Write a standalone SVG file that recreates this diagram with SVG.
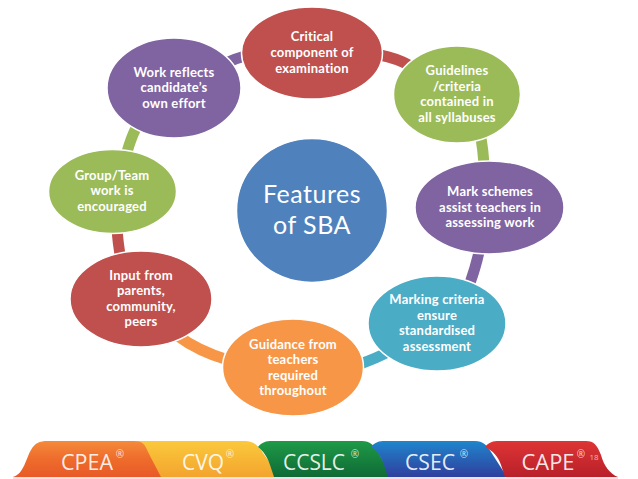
<svg xmlns="http://www.w3.org/2000/svg" width="638" height="479" viewBox="0 0 638 479">
<defs>
<linearGradient id="gO" x1="0" y1="0" x2="0" y2="1"><stop offset="0" stop-color="#f58a3a"/><stop offset=".5" stop-color="#ee6c2c"/><stop offset="1" stop-color="#e85a28"/></linearGradient>
<linearGradient id="gY" x1="0" y1="0" x2="0" y2="1"><stop offset="0" stop-color="#fbc93c"/><stop offset="1" stop-color="#f3a42e"/></linearGradient>
<linearGradient id="gG" x1="0" y1="0" x2="0" y2="1"><stop offset="0" stop-color="#1f9a48"/><stop offset="1" stop-color="#0f6a35"/></linearGradient>
<linearGradient id="gB" x1="0" y1="0" x2="0" y2="1"><stop offset="0" stop-color="#1f85cc"/><stop offset="1" stop-color="#2f3f9e"/></linearGradient>
<linearGradient id="gR" x1="0" y1="0" x2="0" y2="1"><stop offset="0" stop-color="#de3535"/><stop offset="1" stop-color="#b8202a"/></linearGradient>
</defs>
<style>
.n{stroke:#fff;stroke-width:1.5}
.t{font-family:Lato,"Open Sans",sans-serif;font-size:13px;font-weight:700;letter-spacing:.2px;fill:#fff;text-anchor:middle}
.c{fill:none;stroke-width:11}
.f{font-family:Lato,"Open Sans",sans-serif;font-size:25px;letter-spacing:.5px;fill:#fff;text-anchor:middle}
.b{font-family:"Open Sans","Noto Sans",sans-serif;font-size:22px;fill:#fff;text-anchor:middle;fill-opacity:.9}
.r{font-family:"Open Sans","Noto Sans",sans-serif;font-size:10px;fill:#fff;text-anchor:middle;fill-opacity:.8}
.p{font-family:"Open Sans","Noto Sans",sans-serif;font-size:8px;fill:#f4b8b0;text-anchor:middle}
</style>
<rect width="638" height="479" fill="#fff"/>
<g id="connectors">
<path class="c" stroke="#c0504d" d="M380 55Q396 58 411 66"/>
<path class="c" stroke="#9bbb59" d="M481 138Q483 150 484 164"/>
<path class="c" stroke="#8064a2" d="M479 252Q476 266 470 283"/>
<path class="c" stroke="#4bacc6" d="M390 351Q377 358 360 364"/>
<path class="c" stroke="#f79646" d="M178 336Q198 351 228 360"/>
<path class="c" stroke="#c0504d" d="M117 230Q118 242 120 255"/>
<path class="c" stroke="#9bbb59" d="M136 128Q131 138 127 152"/>
<path class="c" stroke="#8064a2" d="M226 63Q234 59 245 56"/>
</g>
<g id="node-center"><ellipse class="n" cx="312" cy="210.500" rx="75.500" ry="72" fill="#4f81bd"/><text class="f"><tspan x="312" y="203">Features</tspan><tspan x="312" y="234">of SBA</tspan></text></g>
<g id="node-critical"><ellipse class="n" cx="312" cy="53" rx="70.500" ry="46" fill="#c0504d"/><text class="t"><tspan x="312" y="41">Critical</tspan><tspan x="312" y="57">component of</tspan><tspan x="312" y="73">examination</tspan></text></g>
<g id="node-guidelines"><ellipse class="n" cx="457" cy="94.500" rx="63.500" ry="48.500" fill="#9bbb59"/><text class="t"><tspan x="457" y="75">Guidelines</tspan><tspan x="457" y="91">/criteria</tspan><tspan x="457" y="106">contained in</tspan><tspan x="457" y="122">all syllabuses</tspan></text></g>
<g id="node-schemes"><ellipse class="n" cx="489.500" cy="207.500" rx="74.500" ry="46.500" fill="#8064a2"/><text class="t"><tspan x="490" y="196">Mark schemes</tspan><tspan x="490" y="212">assist teachers in</tspan><tspan x="490" y="227">assessing work</tspan></text></g>
<g id="node-marking"><ellipse class="n" cx="437" cy="323.500" rx="69" ry="47.500" fill="#4bacc6"/><text class="t"><tspan x="437" y="304">Marking criteria</tspan><tspan x="437" y="320">ensure</tspan><tspan x="437" y="335">standardised</tspan><tspan x="437" y="351">assessment</tspan></text></g>
<g id="node-guidance"><ellipse class="n" cx="293" cy="367.500" rx="70.500" ry="48.500" fill="#f79646"/><text class="t"><tspan x="293" y="349">Guidance from</tspan><tspan x="293" y="364">teachers</tspan><tspan x="293" y="380">required</tspan><tspan x="293" y="395">throughout</tspan></text></g>
<g id="node-input"><ellipse class="n" cx="141" cy="299" rx="71" ry="48" fill="#c0504d"/><text class="t"><tspan x="141" y="280">Input from</tspan><tspan x="141" y="295">parents,</tspan><tspan x="141" y="311">community,</tspan><tspan x="141" y="326">peers</tspan></text></g>
<g id="node-group"><ellipse class="n" cx="112.500" cy="191.500" rx="64" ry="42" fill="#9bbb59"/><text class="t"><tspan x="112" y="180">Group/Team</tspan><tspan x="112" y="195">work is</tspan><tspan x="112" y="211">encouraged</tspan></text></g>
<g id="node-work"><ellipse class="n" cx="174" cy="88" rx="67" ry="50" fill="#8064a2"/><text class="t"><tspan x="174" y="77">Work reflects</tspan><tspan x="174" y="92">candidate’s</tspan><tspan x="174" y="108">own effort</tspan></text></g>
<g id="footer">
<path fill="url(#gY)" d="M135 441H245C253 441 258 445 263 453L280 477H155Z"/>
<path fill="url(#gO)" d="M13 477C24 474 26 458 31 450C35 443 39 441 48 441H134C142 441 145 444 148 452L161 477Z"/>
<path fill="url(#gG)" d="M258 447C262 442 266 441 272 441H362C370 441 374 445 378 452L392 477H274L270 465C267 456 263 451 258 447Z"/>
<path fill="url(#gB)" d="M371 447C375 442 379 441 385 441H475C483 441 487 445 491 452L507 477H388L384 465C381 456 377 451 371 447Z"/>
<path fill="url(#gR)" d="M485 447C489 442 493 441 499 441H586C594 441 597 445 601 455C604 466 610 474 618 477H505L501 465C498 456 493 451 485 447Z"/>
<path fill="none" stroke="#cfc8d8" stroke-width="1" d="M13 478H618"/>
<text class="b" x="87" y="470" textLength="52" lengthAdjust="spacingAndGlyphs">CPEA</text><text class="r" x="120" y="458">®</text>
<text class="b" x="203" y="470" textLength="42" lengthAdjust="spacingAndGlyphs">CVQ</text><text class="r" x="230" y="458">®</text>
<text class="b" x="314" y="470" textLength="62" lengthAdjust="spacingAndGlyphs">CCSLC</text><text class="r" x="355" y="458">®</text>
<text class="b" x="430" y="470" textLength="50" lengthAdjust="spacingAndGlyphs">CSEC</text><text class="r" x="464" y="458">®</text>
<text class="b" x="548" y="470" textLength="53" lengthAdjust="spacingAndGlyphs">CAPE</text><text class="r" x="581" y="458">®</text>
<text class="p" x="594" y="460">18</text>
</g>
</svg>
